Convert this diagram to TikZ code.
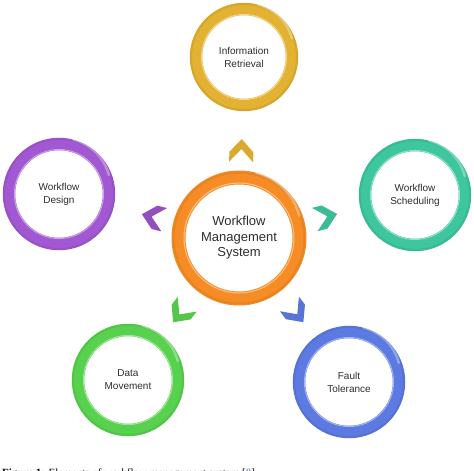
\documentclass[tikz,border=0pt]{standalone}
\usepackage{fontspec}
\setmainfont{Liberation Serif}
\setsansfont{Liberation Sans}
\usetikzlibrary{calc}

\definecolor{ringorange}{RGB}{246,140,38}
\definecolor{ringgold}{RGB}{228,178,50}
\definecolor{ringpurple}{RGB}{162,88,210}
\definecolor{ringteal}{RGB}{62,198,158}
\definecolor{ringgreen}{RGB}{88,210,78}
\definecolor{ringblue}{RGB}{92,122,226}
\definecolor{labelgray}{RGB}{45,45,45}
\definecolor{citeblue}{RGB}{70,120,170}

\tikzset{
	ring/.style={circle,draw=#1,line width=12.5pt,minimum size=100pt,inner sep=0pt,
		align=center,text=labelgray,font=\sffamily\fontsize{10}{13}\selectfont},
	bigring/.style={ring=#1,line width=14pt,minimum size=121pt,
		font=\sffamily\fontsize{13}{15.5}\selectfont},
	gloss/.style={white,opacity=.35,line width=2.5pt,line cap=round},
	chev/.pic={\fill[pic actions] (-6,-12) -- (7,0) -- (-6,12) -- (-16,12) -- (-3,0) -- (-16,-12) -- cycle;}
}

\begin{document}
\begin{tikzpicture}[x=1pt,y=-1pt]
	\useasboundingbox (0,0) rectangle (474,471);
	\clip (0,0) rectangle (474,471);

	%Rings
	\node[bigring=ringorange] (wms) at (239,238) {Workflow\\Management\\System};
	\node[ring=ringgold,minimum size=96pt] (ir) at (244,57) {Information\\Retrieval};
	\node[ring=ringpurple] (wd) at (59,194) {Workflow\\Design};
	\node[ring=ringteal] (ws) at (415,195) {Workflow\\Scheduling};
	\node[ring=ringgreen] (dm) at (128,380) {Data\\Movement};
	\node[ring=ringblue] (ft) at (349,382) {Fault\\Tolerance};

	%Rims and gloss
	\foreach \n/\col/\r in {wms/ringorange/60.5pt, ir/ringgold/48pt, wd/ringpurple/50pt,
			ws/ringteal/50pt, dm/ringgreen/50pt, ft/ringblue/50pt}
	{
		\draw[\col!55!white,line width=1pt] (\n.center) circle[radius=\r-5.5pt];
		\draw[\col!75!black,opacity=.25,line width=2pt] (\n.center) circle[radius=\r+5pt];
		\draw[gloss] (\n.75) arc[start angle=75,end angle=15,radius=\r];
	}

	%Chevrons
	\foreach \target/\col/\dist in {ir/ringgold!95!black/92pt, wd/ringpurple!90!black/93pt,
			ws/ringteal!95!black/94pt, dm/ringgreen!95!black/100pt, ft/ringblue!95!black/99pt}
		\path let \p1=($(\target)-(wms)$), \n1={atan2(\y1,\x1)} in
			($(wms)!\dist!(\target)$) pic[fill=\col,rotate=\n1] {chev};

	%Caption
	\node[anchor=base west,inner sep=0pt,font=\fontsize{11}{13}\selectfont] (cap) at (2,476)
		{\textbf{Figure 1:} Elements of workflow management system [{\color{citeblue}8}]};

\end{tikzpicture}
\end{document}
